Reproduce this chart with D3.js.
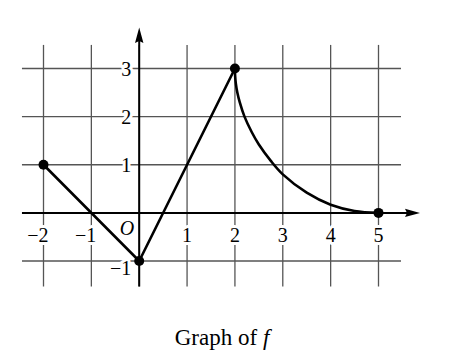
<!DOCTYPE html>
<html>
<head>
<meta charset="utf-8">
<script src="https://cdn.jsdelivr.net/npm/d3@7"></script>
<style>
  html, body { margin: 0; padding: 0; background: #fff; }
  svg { display: block; }
</style>
</head>
<body>
<script>
// grid + tick values
var gridX = [-2, -1, 0, 1, 2, 3, 4, 5];
var gridY = [-1, 0, 1, 2, 3];
var xTicks = [-2, -1, 1, 2, 3, 4, 5];
var yTicks = [-1, 1, 2, 3];

// pieces of f
var linePts = [[-2, 1], [0, -1], [2, 3]];
var curvePts = [
  [2, 3], [2.004, 2.85], [2.02, 2.68], [2.05, 2.5], [2.1, 2.3], [2.2, 2],
  [2.35, 1.68], [2.5, 1.42], [2.75, 1.08], [3, 0.8], [3.5, 0.42],
  [4, 0.17], [4.5, 0.04], [5, 0]
];
var dots = [[-2, 1], [0, -1], [2, 3], [5, 0]];

var w = 453, h = 357;

var svg = d3.select("body").append("svg")
  .attr("width", w)
  .attr("height", h);

var x = d3.scaleLinear().domain([-2, 5]).range([43.5, 378.5]);
var y = d3.scaleLinear().domain([-1, 3]).range([261, 68.5]);

var serif = "'Liberation Serif', 'Times New Roman', serif";

// grid
svg.append("g").selectAll("line")
  .data(gridX)
  .enter().append("line")
  .attr("x1", function(d) { return x(d); })
  .attr("x2", function(d) { return x(d); })
  .attr("y1", y(3.49))
  .attr("y2", y(-1.53))
  .attr("stroke", "#555")
  .attr("stroke-width", 1.3);

svg.append("g").selectAll("line")
  .data(gridY)
  .enter().append("line")
  .attr("x1", x(-2.45))
  .attr("x2", x(5.47))
  .attr("y1", function(d) { return y(d); })
  .attr("y2", function(d) { return y(d); })
  .attr("stroke", "#555")
  .attr("stroke-width", 1.3);

function fmt(d) { return d < 0 ? "\u2212" + (-d) : d; }

// labels: a white copy underneath cuts the grid lines
function drawLabels(halo) {
  var g = svg.append("g")
    .attr("font-family", serif)
    .attr("font-size", "20px")
    .attr("fill", halo ? "#fff" : "#000");
  if (halo) g.attr("stroke", "#fff").attr("stroke-width", 6).attr("stroke-linejoin", "round");

  g.selectAll(".xl")
    .data(xTicks)
    .enter().append("text")
    .attr("x", function(d) { return d < 0 ? x(d) + 5 : x(d); })
    .attr("y", y(0) + 29)
    .attr("text-anchor", function(d) { return d < 0 ? "end" : "middle"; })
    .text(fmt);

  g.selectAll(".yl")
    .data(yTicks)
    .enter().append("text")
    .attr("x", x(0) - 8)
    .attr("y", function(d) { return d < 0 ? y(d) + 14 : y(d) + 7.5; })
    .attr("text-anchor", "end")
    .text(fmt);

  g.append("text")
    .attr("x", x(0) - 5)
    .attr("y", y(0) + 22)
    .attr("text-anchor", "end")
    .attr("font-style", "italic")
    .text("O");
}
drawLabels(true);
drawLabels(false);

// axes with arrows
svg.append("line")
  .attr("x1", x(-2.45)).attr("x2", 408)
  .attr("y1", y(0)).attr("y2", y(0))
  .attr("stroke", "#000").attr("stroke-width", 2);
svg.append("path")
  .attr("d", "M420," + y(0) + "L405," + (y(0) - 4.2) + "L407," + y(0) + "L405," + (y(0) + 4.2) + "Z")
  .attr("fill", "#000");

svg.append("line")
  .attr("x1", x(0)).attr("x2", x(0))
  .attr("y1", y(-1.53)).attr("y2", 40)
  .attr("stroke", "#000").attr("stroke-width", 2);
svg.append("path")
  .attr("d", "M" + x(0) + ",27.5L" + (x(0) - 4.2) + ",43L" + x(0) + ",41L" + (x(0) + 4.2) + ",43Z")
  .attr("fill", "#000");

// f
var line = d3.line()
  .x(function(d) { return x(d[0]); })
  .y(function(d) { return y(d[1]); });

var curve = d3.line()
  .x(function(d) { return x(d[0]); })
  .y(function(d) { return y(d[1]); })
  .curve(d3.curveCatmullRom.alpha(0.5));

svg.append("path")
  .attr("d", line(linePts))
  .attr("fill", "none")
  .attr("stroke", "#000")
  .attr("stroke-width", 2.6)
  .attr("stroke-linejoin", "round");

svg.append("path")
  .attr("d", curve(curvePts))
  .attr("fill", "none")
  .attr("stroke", "#000")
  .attr("stroke-width", 2.6);

svg.append("g").selectAll("circle")
  .data(dots)
  .enter().append("circle")
  .attr("cx", function(d) { return x(d[0]); })
  .attr("cy", function(d) { return y(d[1]); })
  .attr("r", 5)
  .attr("fill", "#000");

// title
var title = svg.append("text")
  .attr("x", 222)
  .attr("y", 345)
  .attr("text-anchor", "middle")
  .attr("font-family", serif)
  .attr("font-size", "23px")
  .attr("fill", "#000");
title.append("tspan").text("Graph of ");
title.append("tspan").attr("font-style", "italic").text("f");
</script>
</body>
</html>
